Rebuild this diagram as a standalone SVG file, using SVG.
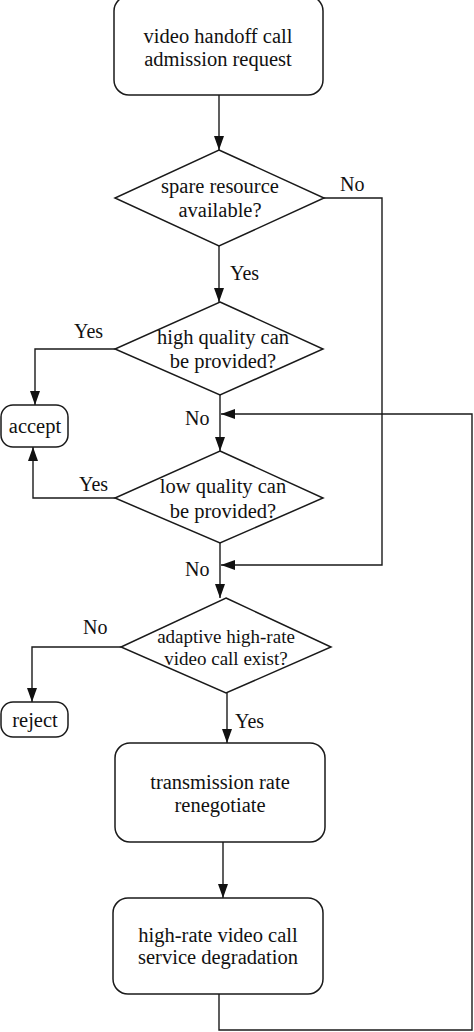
<svg xmlns="http://www.w3.org/2000/svg" width="474" height="1032" viewBox="0 0 474 1032">
<style>
.n{fill:#fff;stroke:#1a1a1a;stroke-width:1.5}
.c{fill:none;stroke:#1a1a1a;stroke-width:1.4}
.t{font-family:"Liberation Serif","Times New Roman",serif;font-size:20.5px;fill:#111;text-anchor:middle}
.l{font-family:"Liberation Serif","Times New Roman",serif;font-size:20px;fill:#111}
</style>
<defs>
<marker id="a" markerUnits="userSpaceOnUse" markerWidth="14" markerHeight="10" refX="14" refY="5" orient="auto">
<path d="M0,0 L14,5 L0,10 z" fill="#111"/>
</marker>
</defs>
<rect width="474" height="1032" fill="#fff"/>
<g id="connectors">
<path class="c" d="M219,95 V150" marker-end="url(#a)"/>
<path class="c" d="M219,246 V302" marker-end="url(#a)"/>
<path class="c" d="M220,395 V451" marker-end="url(#a)"/>
<path class="c" d="M220,543 V598" marker-end="url(#a)"/>
<path class="c" d="M227,693 V743" marker-end="url(#a)"/>
<path class="c" d="M223,842 V898" marker-end="url(#a)"/>
<path class="c" d="M219,994 V1030 H472 V414 H221" marker-end="url(#a)"/>
<path class="c" d="M324,198 H382 V565 H221" marker-end="url(#a)"/>
<path class="c" d="M115,349 H35 V405" marker-end="url(#a)"/>
<path class="c" d="M115,498 H33 V447" marker-end="url(#a)"/>
<path class="c" d="M121,647 H32 V702" marker-end="url(#a)"/>
<text class="l" x="340" y="191">No</text>
<text class="l" x="230" y="280">Yes</text>
<text class="l" x="74" y="338">Yes</text>
<text class="l" x="185" y="425">No</text>
<text class="l" x="79" y="491">Yes</text>
<text class="l" x="185" y="576">No</text>
<text class="l" x="83" y="634">No</text>
<text class="l" x="235" y="728">Yes</text>
</g>
<g id="start">
<rect class="n" x="114" y="-4" width="209" height="99" rx="15"/>
<text class="t" x="218" y="43">video handoff call</text>
<text class="t" x="218" y="66">admission request</text>
</g>
<g id="spare">
<polygon class="n" points="219,150 324,198 219,246 115,198"/>
<text class="t" x="220" y="193">spare resource</text>
<text class="t" x="220" y="217">available?</text>
</g>
<g id="high">
<polygon class="n" points="220,302 323,349 220,395 115,349"/>
<text class="t" x="223" y="344">high quality can</text>
<text class="t" x="223" y="368">be provided?</text>
</g>
<g id="accept">
<rect class="n" x="1" y="405" width="67" height="42" rx="12"/>
<text class="t" x="35" y="433">accept</text>
</g>
<g id="low">
<polygon class="n" points="220,451 323,498 220,543 115,498"/>
<text class="t" x="223" y="493">low quality can</text>
<text class="t" x="223" y="518">be provided?</text>
</g>
<g id="adaptive">
<polygon class="n" points="226,598 331,647 226,693 121,647"/>
<text class="t" x="226" y="643" style="font-size:19px">adaptive high-rate</text>
<text class="t" x="226" y="665" style="font-size:19px">video call exist?</text>
</g>
<g id="reject">
<rect class="n" x="1" y="702" width="67" height="35" rx="12"/>
<text class="t" x="35" y="727">reject</text>
</g>
<g id="renegotiate">
<rect class="n" x="115" y="743" width="210" height="99" rx="15"/>
<text class="t" x="220" y="789">transmission rate</text>
<text class="t" x="220" y="812">renegotiate</text>
</g>
<g id="degradation">
<rect class="n" x="113" y="898" width="210" height="96" rx="15"/>
<text class="t" x="218" y="942">high-rate video call</text>
<text class="t" x="218" y="964">service degradation</text>
</g>
</svg>
